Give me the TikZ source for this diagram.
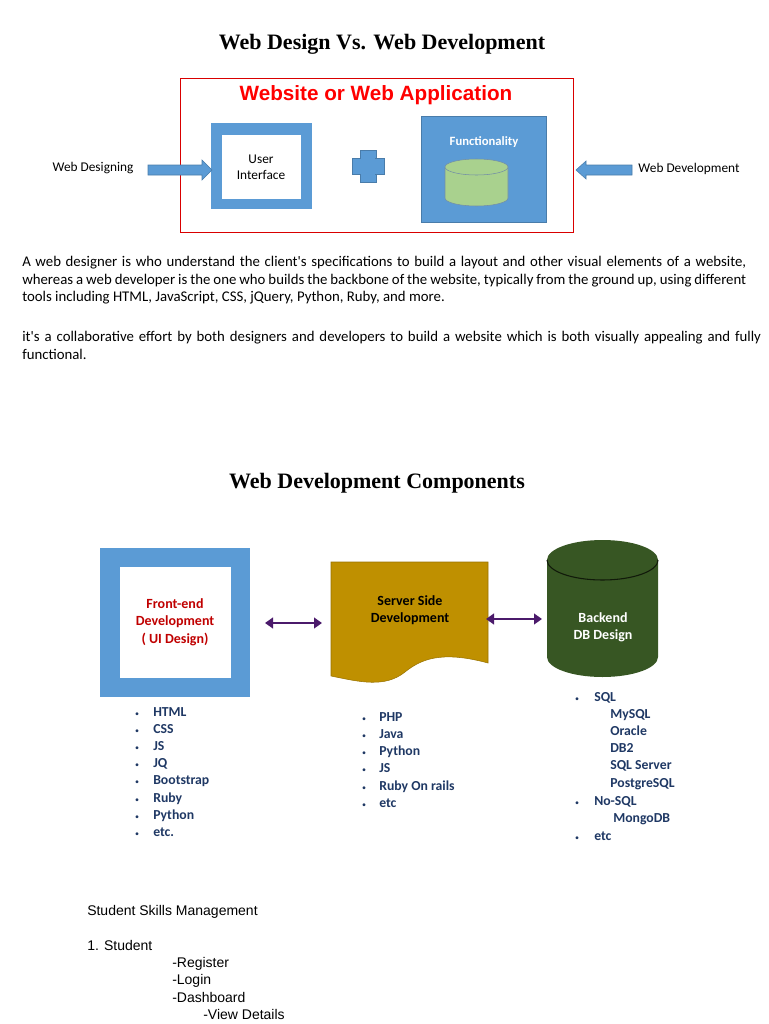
\documentclass[tikz,border=0pt]{standalone}
\usepackage{fontspec}
\setmainfont{Liberation Serif}
\newfontfamily\calf{Carlito}
\newfontfamily\ari{Liberation Sans}
\usetikzlibrary{shapes.geometric,arrows.meta}
\AtBeginDocument{\hyphenpenalty=10000\exhyphenpenalty=10000}
\definecolor{bl}{HTML}{5B9BD5}
\definecolor{lg}{HTML}{A9D18E}
\definecolor{dg}{HTML}{375623}
\definecolor{gold}{HTML}{BF9000}
\definecolor{navy}{HTML}{1F3864}
\definecolor{pur}{HTML}{4B1A6B}
\definecolor{rd}{HTML}{C00000}
\tikzset{
 ttl/.style={font=\fontsize{16.5}{18}\selectfont\bfseries},
 lbl/.style={font=\calf\fontsize{10}{12}\selectfont},
 itm/.style={font=\calf\bfseries\fontsize{10.3}{11}\selectfont,text=navy,anchor=base west,inner sep=0},
 blt/.style={font=\calf\fontsize{6}{11}\selectfont,text=navy,anchor=base,inner sep=0},
 par/.style={font=\calf\fontsize{11.1}{13.2}\selectfont,text width=543pt,align=justify,anchor=north west,inner sep=0},
 bt/.style={font=\ari\fontsize{10.5}{13}\selectfont,anchor=base west,inner sep=0},
 dbl/.style={pur,line width=2pt,{Triangle[length=6pt,width=8pt]}-{Triangle[length=6pt,width=8pt]}},
}
\begin{document}
\begin{tikzpicture}[x=0.75pt,y=-0.75pt]
\useasboundingbox (0,0) rectangle (768,1024);
\node[ttl] (t1) at (382,44) {Web Design Vs. Web Development};
\draw[red!85!black] (180,78) rectangle (573,232);
\node[font=\ari\bfseries\fontsize{15.5}{18}\selectfont,text=red] (wa) at (376,95) {Website or Web Application};
% UI box
\fill[bl] (211,123) rectangle (312,209);
\fill[white] (222,135) rectangle (301,199);
\node[lbl,align=center] (ui) at (261,167) {User\\Interface};
% plus
\fill[bl,draw=bl!80!black] (360,150) rectangle (376,182);
\fill[bl,draw=bl!80!black] (352,158) rectangle (384,174);
\fill[bl] (361,151) rectangle (375,181);
% functionality
\fill[bl,draw=bl!80!black] (421,116) rectangle (546,222);
\node[lbl,text=white,font=\calf\bfseries\fontsize{9.5}{11}\selectfont] (fn) at (484,142) {Functionality};
\draw[bl!60!black!70,fill=lg] (445,167) -- (445,198) arc[start angle=180,end angle=0,x radius=31.5,y radius=8] -- (508,167);
\draw[bl!60!black!70,fill=lg] (476.5,167) ellipse[x radius=31.5,y radius=8];
% side arrows
\node[lbl] (wd) at (93,168) {Web Designing};
\node[lbl] (wdev) at (689,169) {Web Development};
\fill[bl,draw=bl!80!black] (148,165) -- (202,165) -- (202,160) -- (212,170) -- (202,180) -- (202,175) -- (148,175) -- cycle;
\fill[bl,draw=bl!80!black] (632,165) -- (586,165) -- (586,161) -- (576,170) -- (586,179) -- (586,175) -- (632,175) -- cycle;
% paragraphs
\node[par] (p1) at (22,256) {A web designer is who understand the client's specifications to build a layout and other visual elements of a website, whereas a web developer is the one who builds the backbone of the website, typically from the ground up, using different tools including HTML, JavaScript, CSS, jQuery, Python, Ruby, and more.};
\node[par,align=left,text width=565pt] (p2) at (22,331) {it's a collaborative effort by both designers and developers to build a website which is both visually appealing and fully functional.};
\node[ttl] (t2) at (377,483) {Web Development Components};
% front end
\fill[bl] (100,548) rectangle (250,697);
\fill[white] (120,567) rectangle (231,678);
\node[lbl,font=\calf\bfseries\fontsize{10.5}{13}\selectfont,text=rd,align=center] (fe) at (175,622) {Front-end\\Development\\( UI Design)};
% server doc
\fill[gold,draw=gold!80!black] (331,562) -- (488,562) -- (488,663) .. controls (440,650) and (420,660) .. (405,672) .. controls (385,688) and (360,682) .. (331,676) -- cycle;
\node[lbl,font=\calf\bfseries\fontsize{10.5}{13}\selectfont,align=center] (ss) at (410,610) {Server Side\\Development};
% db cylinder
\fill[dg] (547,560) -- (547,657) arc[start angle=180,end angle=0,x radius=55.5,y radius=20] -- (658,560) arc[start angle=0,end angle=-180,x radius=55.5,y radius=20];
\draw[black!70!dg,line width=0.8pt] (547,560) arc[start angle=180,end angle=0,x radius=55.5,y radius=20];
\node[lbl,font=\calf\bfseries\fontsize{10.5}{13}\selectfont,text=white,align=center] (db) at (603,627) {Backend\\DB Design};
\coordinate (a1) at (265,623); \coordinate (a2) at (322,623);
\coordinate (b1) at (486,619); \coordinate (b2) at (542,619);
\draw[dbl] (a1) -- (a2);
\draw[dbl] (b1) -- (b2);
% lists
\foreach \t [count=\i] in {HTML,CSS,JS,JQ,Bootstrap,Ruby,Python,etc.}{
 \node[blt] at (137,{716+(\i-1)*17.2}) {\textbullet};
 \node[itm] at (153,{716+(\i-1)*17.2}) {\t};}
\foreach \t [count=\i] in {PHP,Java,Python,JS,Ruby On rails,etc}{
 \node[blt] at (364,{721+(\i-1)*17.3}) {\textbullet};
 \node[itm] at (379,{721+(\i-1)*17.3}) {\t};}
\foreach \t/\y in {SQL/701,No-SQL/805,etc/840}{
 \node[blt] at (577,\y) {\textbullet};
 \node[itm] at (594,\y) {\t};}
\foreach \t [count=\i] in {MySQL,Oracle,DB2,SQL Server,PostgreSQL}{
 \node[itm] at (610,{718+(\i-1)*17.3}) {\t};}
\node[itm] at (613,822) {MongoDB};
% bottom
\node[bt] (s0) at (87,915) {Student Skills Management};
\node[bt] (s1) at (87,950) {1. Student};
\node[bt] (s2) at (172,967) {-Register};
\node[bt] (s3) at (172,984) {-Login};
\node[bt] (s4) at (172,1002) {-Dashboard};
\node[bt] (s5) at (203,1019) {-View Details};
\end{tikzpicture}
\end{document}
